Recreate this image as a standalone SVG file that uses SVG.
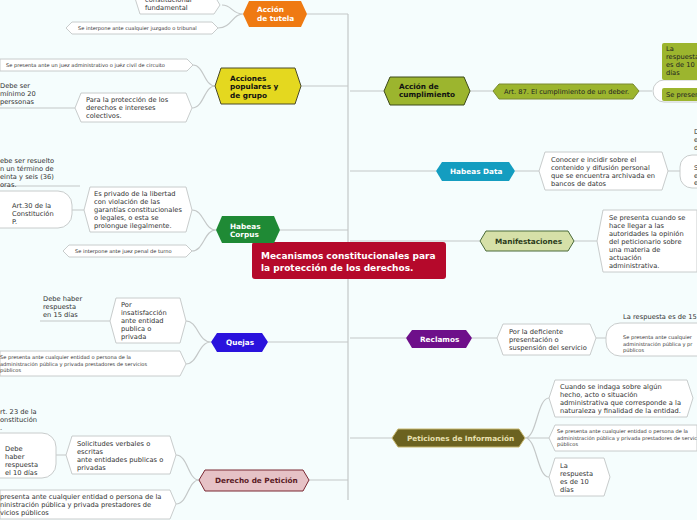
<svg xmlns="http://www.w3.org/2000/svg" width="697" height="520" viewBox="0 0 697 520">
<style>
text{font-family:"DejaVu Sans","Liberation Sans",sans-serif;font-size:6.7px;fill:#333}
.s{font-size:5.1px}
.b{font-weight:bold;font-size:7.3px;fill:#fff}
.o{fill:#fff;stroke:#c8cccc;stroke-width:1}
.c{fill:none;stroke:#c4c8c8;stroke-width:1.2}
</style>
<rect width="697" height="520" fill="#f5fdfd"/>
<g id="connectors">
<path class="c" d="M348 14V500M307 14H348M301 86H348M280 230H348M268 342H348M309 480H348"/>
<path class="c" d="M350 91H384M350 171H436M350 241H480M350 338H406M350 438H392"/>
<path class="c" d="M243 14C232 14 232 5 222 5M243 14C232 14 232 28 218 28"/>
<path class="c" d="M215 86C204 86 204 65 193 65M215 86C204 86 204 108 192 108M75 108H0"/>
<path class="c" d="M216 230C204 230 204 210 192 210M216 230C204 230 204 251 192 251M84 210H72M0 186H80"/>
<path class="c" d="M211 342C198 342 198 321 186 321M211 342C198 342 198 364 186 364M110 321H40"/>
<path class="c" d="M199 480C188 480 188 455 176 455M199 480C188 480 188 504 176 504M66 455H56"/>
<path class="c" d="M470 91H493M639 91H652"/>
<path class="c" d="M515 171H539M668 171H680M574 241H597M472 338H497M596 338H606"/>
<path class="c" d="M525 438C537 438 537 398 549 398M525 438H549M525 438C537 438 537 477 549 477"/>
</g>
<g id="central"><rect x="252" y="242" width="194" height="37" rx="3" fill="#b5092b"/>
<text x="261" y="259" class="b" style="font-size:9px">Mecanismos constitucionales para</text><text x="261" y="271" class="b" style="font-size:9px">la protección de los derechos.</text></g>
<g id="tutela"><path d="M249 1H301L307 14L301 27H249L243 14Z" fill="#ef7a12"/><text x="257" y="12" class="b">Acción</text><text x="257" y="21" class="b">de tutela</text></g>
<g id="tutela1"><path class="o" d="M134 -5H214L220 5L214 14H140Z"/><text x="145" y="10">fundamental</text><text x="145" y="2">constitucional</text></g>
<g id="tutela2"><path class="o" d="M72 22H212L218 28L212 34H72L66 28Z"/><text x="78" y="30" class="s">Se interpone ante cualquier juzgado o tribunal</text></g>
<g id="populares"><path d="M221 68H295L301 86L295 104H221L215 86Z" fill="#e4d81f" stroke="#4a4a2a"/><text x="230" y="81" class="b" style="fill:#111">Acciones</text><text x="230" y="89" class="b" style="fill:#111">populares y</text><text x="230" y="98" class="b" style="fill:#111">de grupo</text></g>
<g id="pop1"><path class="o" d="M0 59H187L193 65L187 71H0Z"/><text x="6" y="67" class="s">Se presenta ante un juez administrativo o juéz civil de circuito</text></g>
<g id="pop2"><path class="o" d="M81 93H186L192 108L186 122H81L75 108Z"/><text x="86" y="102">Para la protección de los</text><text x="86" y="110">derechos e intereses</text><text x="86" y="118">colectivos.</text></g>
<g id="pop3"><text x="0" y="88">Debe ser</text><text x="0" y="96">mínimo 20</text><text x="0" y="104">perssonas</text></g>
<g id="corpus"><path d="M222 216H274L280 230L274 243H222L216 230Z" fill="#1f8a35"/><text x="230" y="229" class="b">Habeas</text><text x="230" y="237" class="b">Corpus</text></g>
<g id="corpus1"><path class="o" d="M90 187H186L192 210L186 232H90L84 210Z"/><text x="94" y="196">Es privado de la libertad</text><text x="94" y="204">con violación de las</text><text x="94" y="212">garantías constitucionales</text><text x="94" y="220">o legales, o esta se</text><text x="94" y="228">prolongue ilegalmente.</text></g>
<g id="corpus2"><path class="o" d="M0 191H58A14 14 0 0 1 72 205V214A14 14 0 0 1 58 228H0"/><text x="12" y="208">Art.30 de la</text><text x="12" y="216">Constitución</text><text x="12" y="224">P.</text></g>
<g id="corpus3"><text x="0" y="163">ebe ser resuelto</text><text x="0" y="171">n un término de</text><text x="0" y="179">einta y seis (36)</text><text x="0" y="187">oras.</text></g>
<g id="corpus4"><path class="o" d="M69 245H186L192 251L186 257H69L63 251Z"/><text x="75" y="253" class="s">Se interpone ante juez penal de turno</text></g>
<g id="quejas"><path d="M217 333H262L268 342L262 352H217L211 342Z" fill="#2a12dd"/><text x="226" y="345" class="b">Quejas</text></g>
<g id="quejas1"><path class="o" d="M116 298H180L186 321L180 343H116L110 321Z"/><text x="121" y="307">Por</text><text x="121" y="315">insatisfacción</text><text x="121" y="323">ante entidad</text><text x="121" y="331">publica o</text><text x="121" y="339">privada</text></g>
<g id="quejas2"><text x="43" y="301">Debe haber</text><text x="43" y="309">respuesta</text><text x="43" y="317">en 15 días</text></g>
<g id="quejas3"><path class="o" d="M0 351H180L186 364L180 376H0Z"/><text x="0" y="359" class="s">Se presenta ante cualquier entidad o persona de la</text><text x="0" y="366" class="s">administración pública y privada prestadores de servicios</text><text x="0" y="372" class="s">públicos</text></g>
<g id="derecho"><path d="M205 470H303L309 480L303 491H205L199 480Z" fill="#e6c2c6" stroke="#7a2833"/><text x="215" y="483" class="b" style="fill:#5a1a24">Derecho de Petición</text></g>
<g id="der1"><path class="o" d="M72 436H170L176 455L170 474H72L66 455Z"/><text x="77" y="446">Solicitudes verbales o</text><text x="77" y="454">escritas</text><text x="77" y="462">ante entidades publicas o</text><text x="77" y="470">privadas</text></g>
<g id="der2"><path class="o" d="M0 433H42A14 14 0 0 1 56 447V464A14 14 0 0 1 42 478H0"/><text x="5" y="451">Debe</text><text x="5" y="459">haber</text><text x="5" y="467">respuesta</text><text x="5" y="475">el 10 días</text></g>
<g id="der3"><text x="0" y="414">rt. 23 de la</text><text x="0" y="422">onstitución</text><text x="0" y="430">.</text></g>
<g id="der4"><path class="o" d="M0 490H170L176 504L170 519H0Z"/><text x="0" y="499">presenta ante cualquier entidad o persona de la</text><text x="0" y="507">ninistración pública y privada prestadores de</text><text x="0" y="515">vicios públicos</text></g>
<g id="cumplimiento"><path d="M390 77H464L470 91L464 105H390L384 91Z" fill="#9cb52e" stroke="#3d4a1b"/><text x="399" y="89" class="b" style="fill:#111">Acción de</text><text x="399" y="97" class="b" style="fill:#111">cumplimiento</text></g>
<g id="art87"><path d="M499 84H633L639 91L633 99H499L493 91Z" fill="#9cb52e" stroke="#7a8a30"/><text x="504" y="94" style="fill:#222">Art. 87. El cumplimiento de un deber.</text></g>
<g id="cump2"><path class="o" d="M697 80H664A11 11 0 0 0 653 91V91A11 11 0 0 0 664 102H697"/><rect x="662" y="43" width="40" height="37" rx="2" fill="#9cb52e"/><text x="666" y="51" style="fill:#222">La</text><text x="666" y="59" style="fill:#222">respuesta</text><text x="666" y="67" style="fill:#222">es de 10</text><text x="666" y="75" style="fill:#222">días</text>
<rect x="662" y="88" width="40" height="13" rx="2" fill="#9cb52e"/><text x="666" y="97" style="fill:#222">Se presenta</text></g>
<g id="data"><path d="M442 162H509L515 171L509 181H442L436 171Z" fill="#149dc0"/><text x="450" y="174" class="b">Habeas Data</text></g>
<g id="data1"><path class="o" d="M545 152H662L668 171L662 190H545L539 171Z"/><text x="551" y="162">Conocer e incidir sobre el</text><text x="551" y="170">contenido y difusión personal</text><text x="551" y="178">que se encuentra archivada en</text><text x="551" y="186">bancos de datos</text></g>
<g id="data2"><path class="o" d="M697 155H692A12 12 0 0 0 680 167V176A12 12 0 0 0 692 188H697"/><text x="694" y="134">D</text><text x="694" y="142">e</text><text x="694" y="150">d</text><text x="694" y="170">S</text><text x="694" y="178">e</text><text x="694" y="185">e</text></g>
<g id="manif"><path d="M486 231H568L574 241L568 251H486L480 241Z" fill="#d6e0a8" stroke="#4a6a3a"/><text x="495" y="244" class="b" style="fill:#2a3a1a">Manifestaciones</text></g>
<g id="manif1"><path class="o" d="M603 210H697V272H603L597 241Z"/><text x="609" y="220">Se presenta cuando se</text><text x="609" y="228">hace llegar a las</text><text x="609" y="236">autoridades la opinión</text><text x="609" y="244">del peticionario sobre</text><text x="609" y="252">una materia de</text><text x="609" y="260">actuación</text><text x="609" y="268">administrativa.</text></g>
<g id="reclamos"><path d="M412 330H466L472 338L466 348H412L406 338Z" fill="#6e0f8a"/><text x="420" y="342" class="b">Reclamos</text></g>
<g id="rec1"><path class="o" d="M503 324H590L596 338L590 355H503L497 338Z"/><text x="509" y="334">Por la deficiente</text><text x="509" y="342">presentación o</text><text x="509" y="350">suspensión del servicio</text></g>
<g id="rec2"><path class="o" d="M697 323H620A14 14 0 0 0 606 337V342A14 14 0 0 0 620 356H697"/><text x="623" y="319">La respuesta es de 15</text><text x="623" y="339" class="s">Se presenta ante cualquier</text><text x="623" y="346" class="s">administración pública y pr</text><text x="623" y="352" class="s">públicos</text></g>
<g id="peticiones"><path d="M398 429H519L525 438L519 447H398L392 438Z" fill="#6b6220" stroke="#c8b870"/><text x="407" y="441" class="b" style="fill:#e8e0b0">Peticiones de Información</text></g>
<g id="pet1"><path class="o" d="M555 380H687L693 398L687 417H555L549 398Z"/><text x="560" y="389">Cuando se indaga sobre algún</text><text x="560" y="397">hecho, acto o situación</text><text x="560" y="405">administrativa que corresponde a la</text><text x="560" y="413">naturaleza y finalidad de la entidad.</text></g>
<g id="pet2"><path class="o" d="M555 425H697V451H555L549 438Z"/><text x="557" y="433" class="s">Se presenta ante cualquier entidad o persona de la</text><text x="557" y="440" class="s">administración pública y privada prestadores de servicios</text><text x="557" y="446" class="s">públicos</text></g>
<g id="pet3"><path class="o" d="M555 458H604L610 477L604 496H555L549 477Z"/><text x="560" y="468">La</text><text x="560" y="476">respuesta</text><text x="560" y="484">es de 10</text><text x="560" y="492">días</text></g>
</svg>
